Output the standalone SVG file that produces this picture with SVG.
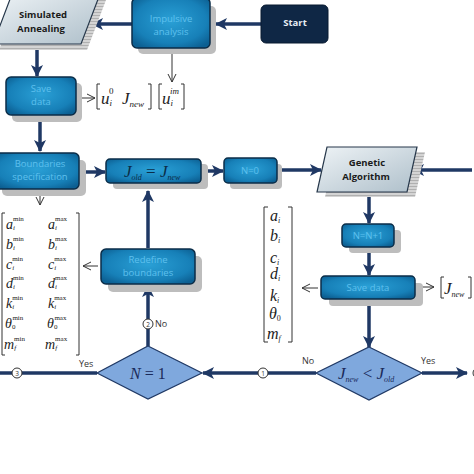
<svg xmlns="http://www.w3.org/2000/svg" width="474" height="474" viewBox="0 0 474 474">
<defs>
<radialGradient id="blue" cx="50%" cy="45%" r="65%">
<stop offset="0" stop-color="#2aa0d6"/>
<stop offset="0.7" stop-color="#1780b8"/>
<stop offset="1" stop-color="#0c5f92"/>
</radialGradient>
<linearGradient id="gray" x1="0" y1="0" x2="1" y2="1">
<stop offset="0" stop-color="#eef3f6"/>
<stop offset="1" stop-color="#aebfca"/>
</linearGradient>
<pattern id="stripes" width="4" height="3" patternUnits="userSpaceOnUse">
<rect width="4" height="3" fill="#d4d4d4"/>
<rect width="4" height="1" fill="#b0b0b0"/>
</pattern>
<marker id="ah" markerWidth="12" markerHeight="12" viewBox="0 0 12 12" refX="11" refY="6" orient="auto" markerUnits="userSpaceOnUse">
<path d="M0,0 L12,6 L0,12 L3,6 Z" fill="#1f3864"/>
</marker>
<marker id="open" markerWidth="10" markerHeight="10" viewBox="0 0 10 10" refX="9" refY="5" orient="auto" markerUnits="userSpaceOnUse">
<path d="M1,1 L9,5 L1,9" fill="none" stroke="#333" stroke-width="1"/>
</marker>
</defs>
<style>
.bx{fill:url(#blue);stroke:#0b2d48;stroke-width:1.5}
.sh{fill:#bdbdbd}
.bt{font-family:"Open Sans","DejaVu Sans",sans-serif;font-size:9.5px;fill:#5ec0ee;text-anchor:middle}
.pt{font-family:"Open Sans","DejaVu Sans",sans-serif;font-size:9.5px;font-weight:bold;fill:#1a1a1a;text-anchor:middle}
.par{fill:url(#gray);stroke:#26374a;stroke-width:1.2}
.thick{stroke:#1f3864;stroke-width:3.5;fill:none}
.thin{stroke:#333;stroke-width:1;fill:none}
.dia{fill:#7fa8dd;stroke:#1f3864;stroke-width:1.2}
.m{font-family:"Liberation Serif","DejaVu Serif",serif;font-style:italic;fill:#222}
.up{font-style:normal}
.lb{font-family:"Open Sans","DejaVu Sans",sans-serif;font-size:9px;fill:#333}
.cn{fill:#fff;stroke:#333;stroke-width:1}
.cnt{font-family:"Open Sans","DejaVu Sans",sans-serif;font-size:6.5px;fill:#333;text-anchor:middle}
.brk{fill:none;stroke:#333;stroke-width:1}
</style>

<g id="connectors">
<line class="thick" x1="261" y1="24" x2="216" y2="24" marker-end="url(#ah)"/>
<line class="thick" x1="132" y1="24" x2="92" y2="24" marker-end="url(#ah)"/>
<line class="thin" x1="172" y1="50" x2="172" y2="82" marker-end="url(#open)"/>
<line class="thick" x1="37" y1="50" x2="37" y2="76" marker-end="url(#ah)"/>
<line class="thin" x1="79" y1="98" x2="95" y2="98" marker-end="url(#open)"/>
<line class="thick" x1="40" y1="117" x2="40" y2="151" marker-end="url(#ah)"/>
<line class="thin" x1="40" y1="192" x2="40" y2="205" marker-end="url(#open)"/>
<line class="thick" x1="85" y1="172" x2="105" y2="172" marker-end="url(#ah)"/>
<line class="thick" x1="203" y1="171" x2="223" y2="171" marker-end="url(#ah)"/>
<line class="thick" x1="281" y1="170" x2="321" y2="170" marker-end="url(#ah)"/>
<line class="thick" x1="472" y1="170" x2="413" y2="170" marker-end="url(#ah)"/>
<line class="thick" x1="369" y1="195" x2="369" y2="223" marker-end="url(#ah)"/>
<line class="thick" x1="369" y1="250" x2="369" y2="275" marker-end="url(#ah)"/>
<line class="thin" x1="318" y1="288" x2="302" y2="288" marker-end="url(#open)"/>
<line class="thin" x1="418" y1="287" x2="434" y2="287" marker-end="url(#open)"/>
<line class="thick" x1="369" y1="302" x2="369" y2="347" marker-end="url(#ah)"/>
<line class="thick" x1="422" y1="373" x2="467" y2="373" marker-end="url(#ah)"/>
<circle class="cn" cx="478" cy="373" r="5"/>
<line class="thick" x1="316" y1="373" x2="203" y2="373" marker-end="url(#ah)"/>
<circle class="cn" cx="263" cy="373" r="5"/>
<text class="cnt" x="263" y="375.5">1</text>
<line class="thick" x1="97" y1="373" x2="0" y2="373"/>
<circle class="cn" cx="17" cy="373" r="5"/>
<text class="cnt" x="17" y="375.5">3</text>
<line class="thick" x1="148" y1="346" x2="148" y2="286" marker-end="url(#ah)"/>
<circle class="cn" cx="148" cy="324" r="5"/>
<text class="cnt" x="148" y="326.5">2</text>
<line class="thick" x1="148" y1="248" x2="148" y2="191" marker-end="url(#ah)"/>
<line class="thin" x1="98" y1="266" x2="83" y2="266" marker-end="url(#open)"/>
<text class="lb" x="302" y="364">No</text>
<text class="lb" x="421" y="364">Yes</text>
<text class="lb" x="79" y="367">Yes</text>
<text class="lb" x="155" y="327">No</text>
</g>

<g id="sim-annealing">
<polygon points="18,0 106,0 87,50 -1,50" fill="url(#stripes)"/>
<polygon class="par" points="12,-6 100,-6 81,44 -7,44"/>
<text class="pt" x="43" y="18">Simulated</text>
<text class="pt" x="41" y="32">Annealing</text>
</g>

<g id="impulsive">
<rect class="sh" x="138" y="6" width="78" height="48" rx="5"/>
<rect class="bx" x="132" y="-2" width="78" height="50" rx="5"/>
<text class="bt" x="171" y="22">Impulsive</text>
<text class="bt" x="171" y="35">analysis</text>
</g>

<g id="start">
<rect x="261" y="5" width="67" height="38" rx="5" fill="#0f2745" stroke="#081a30" stroke-width="1"/>
<text class="pt" x="295" y="26" style="fill:#e8eef5">Start</text>
</g>

<g id="save1">
<rect class="sh" x="12" y="83" width="70" height="39" rx="5"/>
<rect class="bx" x="6" y="77" width="70" height="38" rx="5"/>
<text class="bt" x="41" y="92">Save</text>
<text class="bt" x="41" y="105">data</text>
</g>

<g id="u-vector">
<path class="brk" d="M100,84 L97,84 L97,109 L100,109"/>
<text class="m" x="101" y="104" font-size="17">u<tspan font-size="9" dy="2">i</tspan><tspan class="up" font-size="9" dx="-3" dy="-12">0</tspan></text>
<text class="m" x="122" y="104" font-size="17">J<tspan font-size="9" dy="3">new</tspan></text>
<path class="brk" d="M148,84 L151,84 L151,109 L148,109"/>
<path class="brk" d="M162,84 L159,84 L159,109 L162,109"/>
<text class="m" x="162" y="104" font-size="17">u<tspan font-size="9" dy="2">i</tspan><tspan font-size="9" dx="-3" dy="-12">im</tspan></text>
<path class="brk" d="M181,84 L184,84 L184,109 L181,109"/>
</g>

<g id="boundaries">
<rect class="sh" x="2" y="160" width="84" height="36" rx="5"/>
<rect class="bx" x="-6" y="153" width="85" height="36" rx="5"/>
<text class="bt" x="40" y="167">Boundaries</text>
<text class="bt" x="40" y="180">specification</text>
</g>

<g id="jold">
<rect class="sh" x="113" y="164" width="95" height="25" rx="4"/>
<rect class="bx" x="106" y="159" width="95" height="24" rx="4"/>
<text class="m" x="124" y="177" font-size="17" style="fill:#0b2d48">J<tspan font-size="8" dy="3">old</tspan><tspan class="up" dy="-3"> = </tspan>J<tspan font-size="8" dy="3">new</tspan></text>
</g>

<g id="n0">
<rect class="sh" x="230" y="164" width="52" height="25" rx="4"/>
<rect class="bx" x="224" y="158" width="53" height="25" rx="4"/>
<text class="bt" x="250" y="174">N=0</text>
</g>

<g id="genetic">
<polygon points="335,152 425,152 415,197 325,197" fill="url(#stripes)"/>
<polygon class="par" points="327,147 417,147 407,192 317,192"/>
<text class="pt" x="367" y="166">Genetic</text>
<text class="pt" x="366" y="180">Algorithm</text>
</g>

<g id="nn1">
<rect class="sh" x="349" y="230" width="52" height="23" rx="4"/>
<rect class="bx" x="342" y="224" width="52" height="23" rx="4"/>
<text class="bt" x="368" y="239">N=N+1</text>
</g>

<g id="save2">
<rect class="sh" x="329" y="283" width="94" height="23" rx="4"/>
<rect class="bx" x="321" y="276" width="94" height="23" rx="4"/>
<text class="bt" x="368" y="291">Save data</text>
</g>

<g id="jnew-vector">
<path class="brk" d="M444,277 L441,277 L441,298 L444,298"/>
<text class="m" x="444" y="294" font-size="17">J<tspan font-size="8" dy="3">new</tspan></text>
<path class="brk" d="M468,277 L471,277 L471,298 L468,298"/>
</g>

<g id="param-vector">
<path class="brk" d="M268,207 L264,207 L264,342 L268,342"/>
<path class="brk" d="M288,207 L292,207 L292,342 L288,342"/>
<g class="m" font-size="16">
<text x="270" y="221">a<tspan font-size="8" dy="2">i</tspan></text>
<text x="270" y="241">b<tspan font-size="8" dy="2">i</tspan></text>
<text x="270" y="263">c<tspan font-size="8" dy="2">i</tspan></text>
<text x="270" y="279">d<tspan font-size="8" dy="2">i</tspan></text>
<text x="270" y="301">k<tspan font-size="8" dy="2">i</tspan></text>
<text x="269" y="319">θ<tspan class="up" font-size="8" dy="2">0</tspan></text>
<text x="267" y="339">m<tspan font-size="8" dy="2">f</tspan></text>
</g>
</g>

<g id="redefine">
<rect class="sh" x="108" y="256" width="94" height="36" rx="5"/>
<rect class="bx" x="101" y="249" width="94" height="35" rx="5"/>
<text class="bt" x="148" y="263">Redefine</text>
<text class="bt" x="148" y="276">boundaries</text>
</g>

<g id="minmax-matrix">
<path class="brk" d="M5,213 L2,213 L2,355 L5,355"/>
<path class="brk" d="M76,213 L79,213 L79,355 L76,355"/>
<g class="m" font-size="14">
<text x="6" y="229">a<tspan font-size="7" dy="1">i</tspan><tspan class="up" font-size="7" dx="-2" dy="-9">min</tspan></text>
<text x="48" y="229">a<tspan font-size="7" dy="1">i</tspan><tspan class="up" font-size="7" dx="-2" dy="-9">max</tspan></text>
<text x="6" y="249">b<tspan font-size="7" dy="1">i</tspan><tspan class="up" font-size="7" dx="-2" dy="-9">min</tspan></text>
<text x="48" y="249">b<tspan font-size="7" dy="1">i</tspan><tspan class="up" font-size="7" dx="-2" dy="-9">max</tspan></text>
<text x="6" y="269">c<tspan font-size="7" dy="1">i</tspan><tspan class="up" font-size="7" dx="-2" dy="-9">min</tspan></text>
<text x="48" y="269">c<tspan font-size="7" dy="1">i</tspan><tspan class="up" font-size="7" dx="-2" dy="-9">max</tspan></text>
<text x="6" y="288">d<tspan font-size="7" dy="1">i</tspan><tspan class="up" font-size="7" dx="-2" dy="-9">min</tspan></text>
<text x="48" y="288">d<tspan font-size="7" dy="1">i</tspan><tspan class="up" font-size="7" dx="-2" dy="-9">max</tspan></text>
<text x="6" y="308">k<tspan font-size="7" dy="1">i</tspan><tspan class="up" font-size="7" dx="-2" dy="-9">min</tspan></text>
<text x="48" y="308">k<tspan font-size="7" dy="1">i</tspan><tspan class="up" font-size="7" dx="-2" dy="-9">max</tspan></text>
<text x="5" y="328">θ<tspan class="up" font-size="7" dy="1">0</tspan><tspan class="up" font-size="7" dx="-3" dy="-9">min</tspan></text>
<text x="47" y="328">θ<tspan class="up" font-size="7" dy="1">0</tspan><tspan class="up" font-size="7" dx="-3" dy="-9">max</tspan></text>
<text x="4" y="349">m<tspan font-size="7" dy="1">f</tspan><tspan class="up" font-size="7" dx="-2" dy="-9">min</tspan></text>
<text x="45" y="349">m<tspan font-size="7" dy="1">f</tspan><tspan class="up" font-size="7" dx="-2" dy="-9">max</tspan></text>
</g>
</g>

<g id="n-equals-1">
<polygon class="dia" points="148,346 202,373 148,399 97,373"/>
<text class="m" x="130" y="379" font-size="16" style="fill:#1a2a5a">N<tspan class="up"> = 1</tspan></text>
</g>

<g id="jnew-lt-jold">
<polygon class="dia" points="369,347 422,373 369,400 316,373"/>
<text class="m" x="338" y="379" font-size="17" style="fill:#1a2a5a">J<tspan font-size="8" dy="3">new</tspan><tspan class="up" dy="-3"> &lt; </tspan>J<tspan font-size="8" dy="3">old</tspan></text>
</g>
</svg>
